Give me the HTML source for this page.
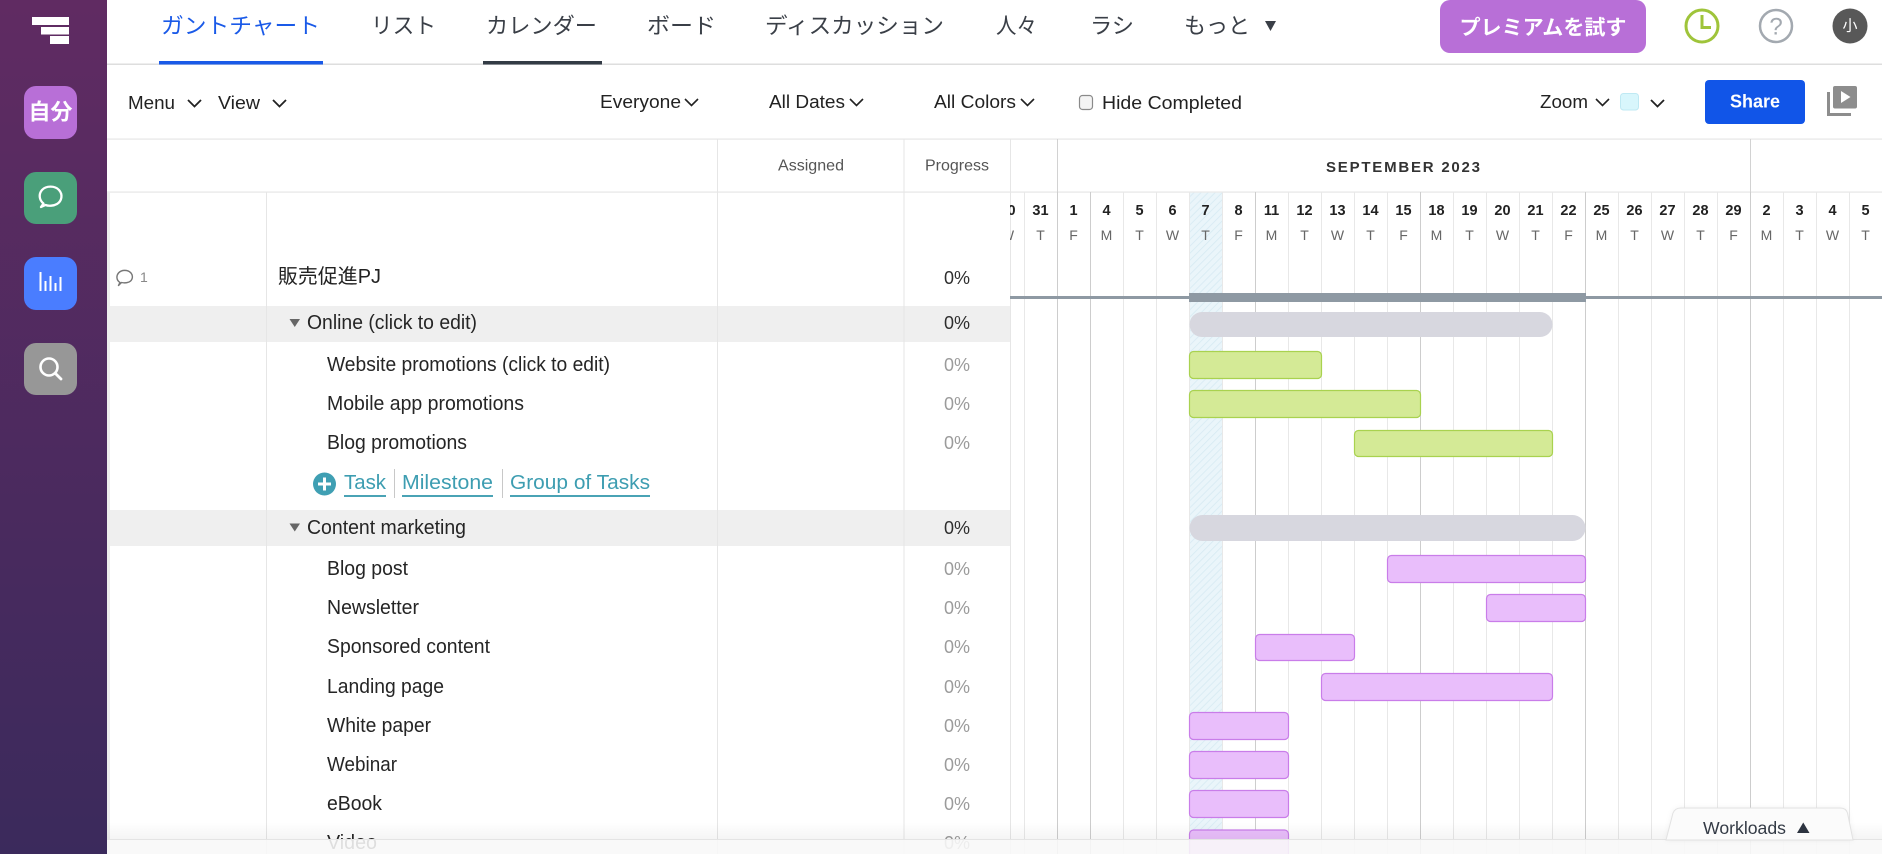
<!DOCTYPE html>
<html><head><meta charset="utf-8">
<style>
html,body{margin:0;padding:0;width:1882px;height:854px;overflow:hidden;background:#fff}
svg{display:block}
text{font-family:"Liberation Sans","Noto Sans CJK JP",sans-serif;dominant-baseline:central}
.tab{font-size:22px;fill:#3a3f47}
.tb{font-size:18px;fill:#222}
.row{font-size:20px;fill:#252525}
.pc{font-size:18px;fill:#9b9b9b;text-anchor:middle}
.pcd{font-size:18px;fill:#2e2e2e;text-anchor:middle}
.dn{font-size:14.5px;font-weight:bold;fill:#222;text-anchor:middle}
.dl{font-size:14px;fill:#666;text-anchor:middle}
.lnk{font-size:20px;fill:#3d9db1}
.hd{font-size:16px;fill:#555;text-anchor:middle}
</style></head><body>
<svg width="1882" height="854" viewBox="0 0 1882 854" xmlns="http://www.w3.org/2000/svg">
<defs>
<linearGradient id="sb" x1="0" y1="0" x2="0" y2="1">
<stop offset="0" stop-color="#602b62"/><stop offset="1" stop-color="#3b2a5c"/>
</linearGradient>
<pattern id="hatch" width="5" height="5" patternUnits="userSpaceOnUse" patternTransform="rotate(45)">
<rect width="5" height="5" fill="#eaf5fa"/><line x1="0" y1="0" x2="0" y2="5" stroke="#d6eaf3" stroke-width="1.6"/>
</pattern>
<clipPath id="dclip"><rect x="1010" y="139" width="872" height="715"/></clipPath>
<linearGradient id="shadow" x1="0" y1="0" x2="0" y2="1">
<stop offset="0" stop-color="#000" stop-opacity="0"/><stop offset="1" stop-color="#000" stop-opacity="0.04"/>
</linearGradient>
<filter id="tabsh" x="-10%" y="-50%" width="120%" height="200%"><feGaussianBlur stdDeviation="3"/></filter>
</defs>

<!-- sidebar -->
<rect x="0" y="0" width="107" height="854" fill="url(#sb)"/>
<rect x="32" y="17" width="37" height="8" fill="#fff"/>
<rect x="41" y="27" width="28" height="7.5" fill="#fff"/>
<rect x="50" y="36" width="19" height="8" fill="#fff"/>
<rect x="24" y="86" width="53" height="53" rx="12" fill="#b86fd7"/>
<text x="50.5" y="112" font-size="22" font-weight="bold" fill="#fff" text-anchor="middle">自分</text>
<rect x="24" y="172" width="53" height="52" rx="12" fill="#4a9f7a"/>
<path d="M43.5,203.5 C39,200 38.5,194 42,190 C46,185.5 55,185.5 59,190 C63,194.5 62,201 57,204 C53.5,206 48.5,206.2 45.5,205 L41,207 Z" fill="none" stroke="#fff" stroke-width="2.3" stroke-linejoin="round"/>
<rect x="24" y="257" width="53" height="53" rx="12" fill="#4a7dff"/>
<g fill="#fff"><rect x="39.5" y="272" width="2" height="19"/><rect x="44.5" y="281" width="2" height="10"/><rect x="49.5" y="276" width="2" height="15"/><rect x="54.5" y="283" width="2" height="8"/><rect x="59.5" y="277" width="2" height="14"/></g>
<rect x="24" y="343" width="53" height="52" rx="12" fill="#979797"/>
<circle cx="49" cy="367" r="8.5" fill="none" stroke="#fff" stroke-width="2.6"/>
<line x1="55.2" y1="373.2" x2="61" y2="379" stroke="#fff" stroke-width="2.8" stroke-linecap="round"/>

<!-- top nav -->
<rect x="107" y="63.5" width="1775" height="1.5" fill="#dedede"/>
<text class="tab" x="161" y="26" fill="#1a5ae8" style="fill:#1a5ae8" textLength="159" lengthAdjust="spacingAndGlyphs">ガントチャート</text>
<rect x="159" y="61" width="164" height="3.5" fill="#1a5ae8"/>
<text class="tab" x="371" y="26" textLength="65" lengthAdjust="spacingAndGlyphs">リスト</text>
<text class="tab" x="486" y="26" textLength="111" lengthAdjust="spacingAndGlyphs">カレンダー</text>
<rect x="483" y="61" width="119" height="3.5" fill="#333b45"/>
<text class="tab" x="647" y="26" textLength="69" lengthAdjust="spacingAndGlyphs">ボード</text>
<text class="tab" x="765" y="26" textLength="179" lengthAdjust="spacingAndGlyphs">ディスカッション</text>
<text class="tab" x="996" y="26" textLength="41" lengthAdjust="spacingAndGlyphs">人々</text>
<text class="tab" x="1090" y="26" textLength="44" lengthAdjust="spacingAndGlyphs">ラシ</text>
<text class="tab" x="1184" y="26" textLength="66" lengthAdjust="spacingAndGlyphs">もっと</text>
<polygon points="1265,21 1276,21 1270.5,31" fill="#3a3f47"/>

<rect x="1440" y="0" width="206" height="53" rx="10" fill="#b86fd7"/>
<text x="1543" y="28" font-size="20.5" font-weight="bold" fill="#fff" text-anchor="middle" textLength="167" lengthAdjust="spacingAndGlyphs">プレミアムを試す</text>
<circle cx="1702" cy="26" r="16" fill="none" stroke="#9fc43a" stroke-width="3"/>
<path d="M1702,15 V27.5 H1711" fill="none" stroke="#9fc43a" stroke-width="3"/>
<circle cx="1776" cy="26" r="16" fill="none" stroke="#a3a9b0" stroke-width="2.5"/>
<text x="1776" y="27" font-size="24" fill="#a3a9b0" text-anchor="middle">?</text>
<circle cx="1850" cy="26" r="17.5" fill="#585858"/>
<text x="1850" y="26" font-size="15" fill="#fff" text-anchor="middle">小</text>

<!-- toolbar -->
<text class="tb" x="128" y="103" textLength="47" lengthAdjust="spacingAndGlyphs">Menu</text>
<polyline points="188,100 194.5,106.5 201,100" fill="none" stroke="#222" stroke-width="1.8"/>
<text class="tb" x="218" y="103" textLength="42" lengthAdjust="spacingAndGlyphs">View</text>
<polyline points="273,100 279.5,106.5 286,100" fill="none" stroke="#222" stroke-width="1.8"/>
<text class="tb" x="600" y="102" textLength="81" lengthAdjust="spacingAndGlyphs">Everyone</text>
<polyline points="685,99 691.5,105.5 698,99" fill="none" stroke="#222" stroke-width="1.6"/>
<text class="tb" x="769" y="102" textLength="76" lengthAdjust="spacingAndGlyphs">All Dates</text>
<polyline points="850,99 856.5,105.5 863,99" fill="none" stroke="#222" stroke-width="1.6"/>
<text class="tb" x="934" y="102" textLength="82" lengthAdjust="spacingAndGlyphs">All Colors</text>
<polyline points="1021,99 1027.5,105.5 1034,99" fill="none" stroke="#222" stroke-width="1.6"/>
<rect x="1079.5" y="95.5" width="13" height="14" rx="3" fill="#f4f4f4" stroke="#8a8a8a" stroke-width="1.2"/>
<text class="tb" x="1102" y="103" textLength="140" lengthAdjust="spacingAndGlyphs">Hide Completed</text>
<text class="tb" x="1540" y="102" textLength="48" lengthAdjust="spacingAndGlyphs">Zoom</text>
<polyline points="1596,99 1602.5,105.5 1609,99" fill="none" stroke="#222" stroke-width="1.6"/>
<rect x="1620.5" y="93.5" width="18" height="16.5" rx="3" fill="#d8f6fc" stroke="#bfe9f3" stroke-width="1"/>
<polyline points="1651,100 1657.5,106.5 1664,100" fill="none" stroke="#222" stroke-width="1.8"/>
<rect x="1705" y="80" width="100" height="44" rx="4" fill="#1155e8"/>
<text x="1755" y="101.5" font-size="18" font-weight="bold" fill="#fff" text-anchor="middle" textLength="50" lengthAdjust="spacingAndGlyphs">Share</text>
<path d="M1828.5,92 V114.5 H1851" fill="none" stroke="#8d8d8d" stroke-width="3"/>
<rect x="1833" y="86" width="24" height="22.5" rx="2" fill="#8d8d8d"/>
<polygon points="1841,91 1841,103 1850.5,97" fill="#fff"/>

<rect x="107" y="138.5" width="1775" height="1.2" fill="#e6e6e6"/>

<!-- header row -->
<text class="hd" x="811" y="166" textLength="66" lengthAdjust="spacingAndGlyphs">Assigned</text>
<text class="hd" x="957" y="166" textLength="64" lengthAdjust="spacingAndGlyphs">Progress</text>
<text x="1326" y="167.5" font-size="15" font-weight="bold" fill="#333" textLength="154" lengthAdjust="spacing">SEPTEMBER 2023</text>
<rect x="107" y="191.5" width="1775" height="1.2" fill="#e6e6e6"/>

<!-- body backgrounds -->
<rect x="107" y="192" width="3" height="662" fill="#ededed"/>
<rect x="110" y="306" width="900" height="36" fill="#efefef"/>
<rect x="110" y="510" width="900" height="36" fill="#efefef"/>
<rect x="1190" y="192.7" width="32" height="662" fill="url(#hatch)"/>

<!-- grid lines -->
<g fill="#e6e6e6">
<rect x="266" y="192" width="1" height="662"/>
<rect x="717" y="139" width="1" height="715"/>
<rect x="903.5" y="139" width="1" height="715"/>
<rect x="1010" y="139" width="1" height="715"/>
</g>
<g fill="#d2d2d2">
<rect x="1057" y="139" width="1" height="53"/>
<rect x="1750" y="139" width="1" height="53"/>
</g>
<g fill="#e8e8e8">
<rect x="1024" y="192" width="1" height="662"/>
<rect x="1123" y="192" width="1" height="662"/>
<rect x="1156" y="192" width="1" height="662"/>
<rect x="1189" y="192" width="1" height="662"/>
<rect x="1222" y="192" width="1" height="662"/>
<rect x="1288" y="192" width="1" height="662"/>
<rect x="1321" y="192" width="1" height="662"/>
<rect x="1354" y="192" width="1" height="662"/>
<rect x="1387" y="192" width="1" height="662"/>
<rect x="1453" y="192" width="1" height="662"/>
<rect x="1486" y="192" width="1" height="662"/>
<rect x="1519" y="192" width="1" height="662"/>
<rect x="1552" y="192" width="1" height="662"/>
<rect x="1618" y="192" width="1" height="662"/>
<rect x="1651" y="192" width="1" height="662"/>
<rect x="1684" y="192" width="1" height="662"/>
<rect x="1717" y="192" width="1" height="662"/>
<rect x="1783" y="192" width="1" height="662"/>
<rect x="1816" y="192" width="1" height="662"/>
<rect x="1849" y="192" width="1" height="662"/>
</g>
<g fill="#cdcdcd">
<rect x="1057" y="192" width="1" height="662"/>
<rect x="1090" y="192" width="1" height="662"/>
<rect x="1255" y="192" width="1" height="662"/>
<rect x="1420" y="192" width="1" height="662"/>
<rect x="1585" y="192" width="1" height="662"/>
<rect x="1750" y="192" width="1" height="662"/>
</g>

<!-- date labels -->
<g clip-path="url(#dclip)">
<text class="dn" x="1007.5" y="211">30</text><text class="dl" x="1007.5" y="235">W</text>
<text class="dn" x="1040.5" y="211">31</text><text class="dl" x="1040.5" y="235">T</text>
<text class="dn" x="1073.5" y="211">1</text><text class="dl" x="1073.5" y="235">F</text>
<text class="dn" x="1106.5" y="211">4</text><text class="dl" x="1106.5" y="235">M</text>
<text class="dn" x="1139.5" y="211">5</text><text class="dl" x="1139.5" y="235">T</text>
<text class="dn" x="1172.5" y="211">6</text><text class="dl" x="1172.5" y="235">W</text>
<text class="dn" x="1205.5" y="211">7</text><text class="dl" x="1205.5" y="235">T</text>
<text class="dn" x="1238.5" y="211">8</text><text class="dl" x="1238.5" y="235">F</text>
<text class="dn" x="1271.5" y="211">11</text><text class="dl" x="1271.5" y="235">M</text>
<text class="dn" x="1304.5" y="211">12</text><text class="dl" x="1304.5" y="235">T</text>
<text class="dn" x="1337.5" y="211">13</text><text class="dl" x="1337.5" y="235">W</text>
<text class="dn" x="1370.5" y="211">14</text><text class="dl" x="1370.5" y="235">T</text>
<text class="dn" x="1403.5" y="211">15</text><text class="dl" x="1403.5" y="235">F</text>
<text class="dn" x="1436.5" y="211">18</text><text class="dl" x="1436.5" y="235">M</text>
<text class="dn" x="1469.5" y="211">19</text><text class="dl" x="1469.5" y="235">T</text>
<text class="dn" x="1502.5" y="211">20</text><text class="dl" x="1502.5" y="235">W</text>
<text class="dn" x="1535.5" y="211">21</text><text class="dl" x="1535.5" y="235">T</text>
<text class="dn" x="1568.5" y="211">22</text><text class="dl" x="1568.5" y="235">F</text>
<text class="dn" x="1601.5" y="211">25</text><text class="dl" x="1601.5" y="235">M</text>
<text class="dn" x="1634.5" y="211">26</text><text class="dl" x="1634.5" y="235">T</text>
<text class="dn" x="1667.5" y="211">27</text><text class="dl" x="1667.5" y="235">W</text>
<text class="dn" x="1700.5" y="211">28</text><text class="dl" x="1700.5" y="235">T</text>
<text class="dn" x="1733.5" y="211">29</text><text class="dl" x="1733.5" y="235">F</text>
<text class="dn" x="1766.5" y="211">2</text><text class="dl" x="1766.5" y="235">M</text>
<text class="dn" x="1799.5" y="211">3</text><text class="dl" x="1799.5" y="235">T</text>
<text class="dn" x="1832.5" y="211">4</text><text class="dl" x="1832.5" y="235">W</text>
<text class="dn" x="1865.5" y="211">5</text><text class="dl" x="1865.5" y="235">T</text>
</g>

<!-- gantt bars -->
<rect x="1010" y="296" width="872" height="3" fill="#8e99a3"/>
<rect x="1189" y="293" width="397" height="9" fill="#8e99a3"/>
<rect x="1189.5" y="312" width="363" height="25" rx="12.5" fill="#d7d7df"/>
<rect x="1189.5" y="515" width="396" height="26" rx="13" fill="#d7d7df"/>
<g fill="#d4ea96" stroke="#a9d24f" stroke-width="1.2">
<rect x="1189.5" y="351.5" width="132" height="27" rx="4"/>
<rect x="1189.5" y="390.5" width="231" height="27" rx="4"/>
<rect x="1354.5" y="430.5" width="198" height="26" rx="4"/>
</g>
<g fill="#e9befb" stroke="#c97de9" stroke-width="1.2">
<rect x="1387.5" y="555.5" width="198" height="27" rx="4"/>
<rect x="1486.5" y="594.5" width="99" height="27" rx="4"/>
<rect x="1255.5" y="634.5" width="99" height="26" rx="4"/>
<rect x="1321.5" y="673.5" width="231" height="27" rx="4"/>
<rect x="1189.5" y="712.5" width="99" height="27" rx="4"/>
<rect x="1189.5" y="751.5" width="99" height="27" rx="4"/>
<rect x="1189.5" y="790.5" width="99" height="27" rx="4"/>
<rect x="1189.5" y="830" width="99" height="27" rx="4"/>
</g>

<!-- left table content -->
<path d="M120,282.5 C116.5,280.5 116,276 118.5,273 C121.5,269.5 128,269.5 131,273 C133.5,276 132.5,280.5 129,282 C126.5,283 123.5,283 121.5,282.5 L118.5,285.5 Z" fill="none" stroke="#777" stroke-width="1.4" stroke-linejoin="round"/>
<text x="140" y="277" font-size="14" fill="#888">1</text>
<text x="278" y="277" font-size="20" fill="#222" textLength="103" lengthAdjust="spacingAndGlyphs">販売促進PJ</text>
<text class="pcd" x="957" y="278">0%</text>

<polygon points="289.5,319 300,319 294.75,327" fill="#666"/>
<text class="row" x="307" y="323" textLength="170" lengthAdjust="spacingAndGlyphs">Online (click to edit)</text>
<text class="pcd" x="957" y="323">0%</text>

<text class="row" x="327" y="365" textLength="283" lengthAdjust="spacingAndGlyphs">Website promotions (click to edit)</text>
<text class="pc" x="957" y="365">0%</text>
<text class="row" x="327" y="404" textLength="197" lengthAdjust="spacingAndGlyphs">Mobile app promotions</text>
<text class="pc" x="957" y="404">0%</text>
<text class="row" x="327" y="443" textLength="140" lengthAdjust="spacingAndGlyphs">Blog promotions</text>
<text class="pc" x="957" y="443">0%</text>

<circle cx="324.5" cy="484" r="11.5" fill="#3f9fb3"/>
<rect x="318" y="482.5" width="13" height="3" fill="#fff"/>
<rect x="323" y="477.5" width="3" height="13" fill="#fff"/>
<text class="lnk" x="344" y="483" textLength="42" lengthAdjust="spacingAndGlyphs">Task</text>
<rect x="344" y="495" width="42" height="2" fill="#4aa3b5"/>
<rect x="394" y="469" width="1" height="29" fill="#c8c8c8"/>
<text class="lnk" x="402" y="483" textLength="91" lengthAdjust="spacingAndGlyphs">Milestone</text>
<rect x="402" y="495" width="91" height="2" fill="#4aa3b5"/>
<rect x="502" y="469" width="1" height="29" fill="#c8c8c8"/>
<text class="lnk" x="510" y="483" textLength="140" lengthAdjust="spacingAndGlyphs">Group of Tasks</text>
<rect x="510" y="495" width="140" height="2" fill="#4aa3b5"/>

<polygon points="289.5,523.5 300,523.5 294.75,531.5" fill="#666"/>
<text class="row" x="307" y="528" textLength="159" lengthAdjust="spacingAndGlyphs">Content marketing</text>
<text class="pcd" x="957" y="528">0%</text>

<text class="row" x="327" y="569" textLength="81" lengthAdjust="spacingAndGlyphs">Blog post</text>
<text class="pc" x="957" y="569">0%</text>
<text class="row" x="327" y="608" textLength="92" lengthAdjust="spacingAndGlyphs">Newsletter</text>
<text class="pc" x="957" y="608">0%</text>
<text class="row" x="327" y="647" textLength="163" lengthAdjust="spacingAndGlyphs">Sponsored content</text>
<text class="pc" x="957" y="647">0%</text>
<text class="row" x="327" y="687" textLength="117" lengthAdjust="spacingAndGlyphs">Landing page</text>
<text class="pc" x="957" y="687">0%</text>
<text class="row" x="327" y="726" textLength="104" lengthAdjust="spacingAndGlyphs">White paper</text>
<text class="pc" x="957" y="726">0%</text>
<text class="row" x="327" y="765" textLength="70" lengthAdjust="spacingAndGlyphs">Webinar</text>
<text class="pc" x="957" y="765">0%</text>
<text class="row" x="327" y="804" textLength="55" lengthAdjust="spacingAndGlyphs">eBook</text>
<text class="pc" x="957" y="804">0%</text>
<text class="row" x="327" y="843" textLength="50" lengthAdjust="spacingAndGlyphs">Video</text>
<text class="pc" x="957" y="843">0%</text>

<!-- bottom overlay -->
<rect x="107" y="822" width="1775" height="17" fill="url(#shadow)"/>
<rect x="107" y="839" width="1775" height="15" fill="#f8f8f8" fill-opacity="0.88"/>
<rect x="107" y="839" width="1775" height="1" fill="#e4e4e4"/>

<!-- workloads tab -->
<path d="M1666,840 L1673,813 Q1675,808 1681,808 L1840,808 Q1846,808 1847.5,813 L1853,840 Z" fill="#000" fill-opacity="0.06" filter="url(#tabsh)"/>
<path d="M1666,840 L1673,813 Q1675,808 1681,808 L1840,808 Q1846,808 1847.5,813 L1853,840 Z" fill="#fbfbfb" stroke="#e2e2e2" stroke-width="1"/>
<text x="1703" y="828" font-size="17.5" fill="#333a45" textLength="83" lengthAdjust="spacingAndGlyphs">Workloads</text>
<polygon points="1797,833 1809.5,833 1803.25,822.5" fill="#2d3440"/>
</svg>
</body></html>
